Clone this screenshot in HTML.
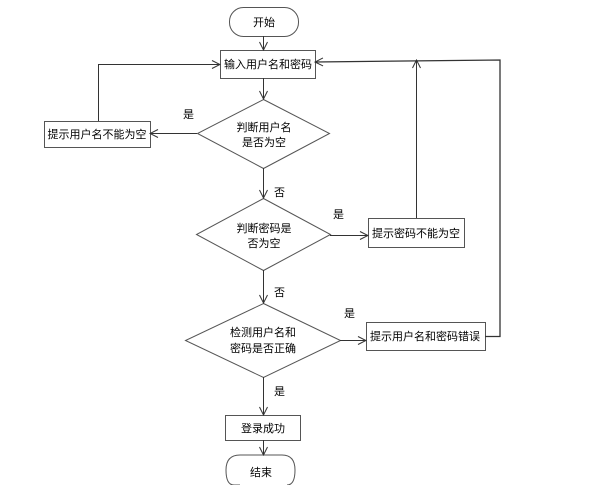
<!DOCTYPE html>
<html><head><meta charset="utf-8"><style>
body{margin:0;background:#fff;}
svg text{font-family:"Liberation Sans","Noto Sans CJK SC",sans-serif;font-size:11px;fill:#000;}
</style></head><body>
<svg width="600" height="485" viewBox="0 0 600 485" xmlns="http://www.w3.org/2000/svg">
<defs><marker id="a" markerWidth="10" markerHeight="10" refX="9" refY="5" orient="auto" markerUnits="userSpaceOnUse"><path d="M1,1 L9,5 L1,9" fill="none" stroke="#333" stroke-width="1"/></marker></defs>
<g fill="none" stroke="#555" stroke-width="1">
<rect x="229.5" y="7.5" width="69" height="29" rx="14"/>
<rect x="220.5" y="50.5" width="95" height="28"/>
<polygon points="263.5,99.5 329.5,133.5 263.5,168.5 197.5,133.5"/>
<rect x="44.5" y="121.5" width="106" height="26"/>
<polygon points="263.5,198.5 330.5,234.5 263.5,270.5 196.5,234.5"/>
<rect x="368.5" y="218.5" width="96" height="29"/>
<polygon points="263.5,303.5 340.5,340.5 263.5,377.5 185.5,340.5"/>
<rect x="366.5" y="322.5" width="119" height="28"/>
<rect x="225.5" y="415.5" width="75" height="25"/>
<path d="M240,485 L234,485 Q226,485 226,470 Q226,455 240,455 L282,455 Q295,455 295,470 Q295,485 287,485"/>
</g>
<g fill="none" stroke="#333" stroke-width="1">
<path d="M263.5,36 V50" marker-end="url(#a)"/>
<path d="M263.5,78 V99" marker-end="url(#a)"/>
<path d="M197,133.5 H150" marker-end="url(#a)"/>
<path d="M98.5,121 V64.5 H220" marker-end="url(#a)"/>
<path d="M263.5,168 V198" marker-end="url(#a)"/>
<path d="M330,235.5 H368" marker-end="url(#a)"/>
<path d="M416.5,218 V60" marker-end="url(#a)"/>
<path d="M263.5,270 V303" marker-end="url(#a)"/>
<path d="M340,340.5 H366" marker-end="url(#a)"/>
<path d="M485,336.5 H500 V60 L315,62" marker-end="url(#a)" stroke-width="1.3"/>
<path d="M263.5,377 V415" marker-end="url(#a)"/>
<path d="M263.5,440 V455" marker-end="url(#a)"/>
</g>
<g text-anchor="middle">
<text x="264" y="26">开始</text>
<text x="268" y="68">输入用户名和密码</text>
<text x="264" y="131">判断用户名</text>
<text x="264" y="146">是否为空</text>
<text x="97" y="138">提示用户名不能为空</text>
<text x="264" y="232">判断密码是</text>
<text x="264" y="247">否为空</text>
<text x="416" y="237">提示密码不能为空</text>
<text x="263" y="336">检测用户名和</text>
<text x="263" y="352">密码是否正确</text>
<text x="425" y="340">提示用户名和密码错误</text>
<text x="263" y="432">登录成功</text>
<text x="261" y="476">结束</text>
</g>
<text x="183" y="118">是</text>
<text x="274" y="196">否</text>
<text x="333" y="218">是</text>
<text x="274" y="296">否</text>
<text x="344" y="317">是</text>
<text x="274" y="395">是</text>
</svg>
</body></html>
